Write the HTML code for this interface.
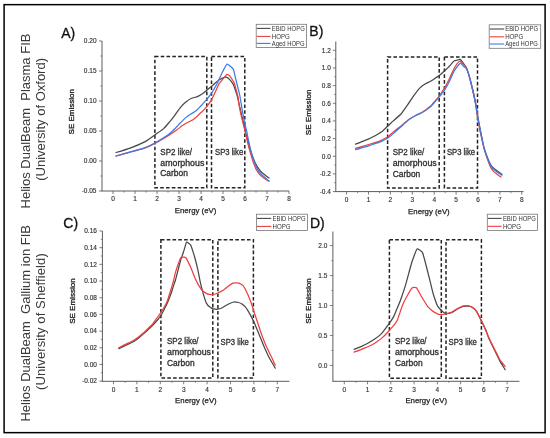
<!DOCTYPE html><html><head><meta charset="utf-8"><style>html,body{margin:0;padding:0;background:#fff;}svg{display:block;will-change:transform;}text{font-family:"Liberation Sans",sans-serif;}</style></head><body>
<svg width="550" height="438" viewBox="0 0 550 438">
<rect x="0" y="0" width="550" height="438" fill="#fff"/>
<rect x="4.1" y="4.65" width="541" height="428" fill="none" stroke="#000" stroke-width="1.5"/>
<text x="0" y="0" font-size="13" text-anchor="middle" fill="#3a3a3a" font-weight="normal" transform="translate(29.8,121) rotate(-90)" >Helios DualBeam&#160;&#160;Plasma FIB</text>
<text x="0" y="0" font-size="13" text-anchor="middle" fill="#3a3a3a" font-weight="normal" transform="translate(44.9,119.4) rotate(-90)" >(University of Oxford)</text>
<text x="0" y="0" font-size="13" text-anchor="middle" fill="#3a3a3a" font-weight="normal" transform="translate(29.8,323.3) rotate(-90)" >Helios DualBeam&#160;&#160;Gallium ion FIB</text>
<text x="0" y="0" font-size="13" text-anchor="middle" fill="#3a3a3a" font-weight="normal" transform="translate(44.9,321.6) rotate(-90)" textLength="136.8" lengthAdjust="spacing">(University of Sheffield)</text>
<text x="61.2" y="37.8" font-size="14" text-anchor="start" fill="#111" font-weight="normal" stroke="#111" stroke-width="0.3">A)</text>
<text x="309.3" y="36.4" font-size="14" text-anchor="start" fill="#111" font-weight="normal" stroke="#111" stroke-width="0.3">B)</text>
<text x="63.3" y="227.8" font-size="14" text-anchor="start" fill="#111" font-weight="normal" stroke="#111" stroke-width="0.3">C)</text>
<text x="309.9" y="227.5" font-size="14" text-anchor="start" fill="#111" font-weight="normal" stroke="#111" stroke-width="0.3">D)</text>
<line x1="102" y1="41" x2="102" y2="191" stroke="#5c5c5c" stroke-width="1"/>
<line x1="101.5" y1="191" x2="289" y2="191" stroke="#5c5c5c" stroke-width="1"/>
<line x1="99" y1="41" x2="102" y2="41" stroke="#5c5c5c" stroke-width="0.8"/>
<text x="96.5" y="43.3" font-size="6.5" text-anchor="end" fill="#333" font-weight="normal" stroke="#333" stroke-width="0.15">0.20</text>
<line x1="99" y1="71" x2="102" y2="71" stroke="#5c5c5c" stroke-width="0.8"/>
<text x="96.5" y="73.3" font-size="6.5" text-anchor="end" fill="#333" font-weight="normal" stroke="#333" stroke-width="0.15">0.15</text>
<line x1="99" y1="101" x2="102" y2="101" stroke="#5c5c5c" stroke-width="0.8"/>
<text x="96.5" y="103.3" font-size="6.5" text-anchor="end" fill="#333" font-weight="normal" stroke="#333" stroke-width="0.15">0.10</text>
<line x1="99" y1="131" x2="102" y2="131" stroke="#5c5c5c" stroke-width="0.8"/>
<text x="96.5" y="133.3" font-size="6.5" text-anchor="end" fill="#333" font-weight="normal" stroke="#333" stroke-width="0.15">0.05</text>
<line x1="99" y1="161" x2="102" y2="161" stroke="#5c5c5c" stroke-width="0.8"/>
<text x="96.5" y="163.3" font-size="6.5" text-anchor="end" fill="#333" font-weight="normal" stroke="#333" stroke-width="0.15">0.00</text>
<line x1="99" y1="191" x2="102" y2="191" stroke="#5c5c5c" stroke-width="0.8"/>
<text x="96.5" y="193.3" font-size="6.5" text-anchor="end" fill="#333" font-weight="normal" stroke="#333" stroke-width="0.15">-0.05</text>
<line x1="100.4" y1="56" x2="102" y2="56" stroke="#5c5c5c" stroke-width="0.7"/>
<line x1="100.4" y1="86" x2="102" y2="86" stroke="#5c5c5c" stroke-width="0.7"/>
<line x1="100.4" y1="116" x2="102" y2="116" stroke="#5c5c5c" stroke-width="0.7"/>
<line x1="100.4" y1="146" x2="102" y2="146" stroke="#5c5c5c" stroke-width="0.7"/>
<line x1="100.4" y1="176" x2="102" y2="176" stroke="#5c5c5c" stroke-width="0.7"/>
<line x1="113" y1="191" x2="113" y2="194" stroke="#5c5c5c" stroke-width="0.8"/>
<text x="113" y="201.3" font-size="6.5" text-anchor="middle" fill="#333" font-weight="normal" stroke="#333" stroke-width="0.15">0</text>
<line x1="135" y1="191" x2="135" y2="194" stroke="#5c5c5c" stroke-width="0.8"/>
<text x="135" y="201.3" font-size="6.5" text-anchor="middle" fill="#333" font-weight="normal" stroke="#333" stroke-width="0.15">1</text>
<line x1="157" y1="191" x2="157" y2="194" stroke="#5c5c5c" stroke-width="0.8"/>
<text x="157" y="201.3" font-size="6.5" text-anchor="middle" fill="#333" font-weight="normal" stroke="#333" stroke-width="0.15">2</text>
<line x1="179" y1="191" x2="179" y2="194" stroke="#5c5c5c" stroke-width="0.8"/>
<text x="179" y="201.3" font-size="6.5" text-anchor="middle" fill="#333" font-weight="normal" stroke="#333" stroke-width="0.15">3</text>
<line x1="201" y1="191" x2="201" y2="194" stroke="#5c5c5c" stroke-width="0.8"/>
<text x="201" y="201.3" font-size="6.5" text-anchor="middle" fill="#333" font-weight="normal" stroke="#333" stroke-width="0.15">4</text>
<line x1="223" y1="191" x2="223" y2="194" stroke="#5c5c5c" stroke-width="0.8"/>
<text x="223" y="201.3" font-size="6.5" text-anchor="middle" fill="#333" font-weight="normal" stroke="#333" stroke-width="0.15">5</text>
<line x1="245" y1="191" x2="245" y2="194" stroke="#5c5c5c" stroke-width="0.8"/>
<text x="245" y="201.3" font-size="6.5" text-anchor="middle" fill="#333" font-weight="normal" stroke="#333" stroke-width="0.15">6</text>
<line x1="267" y1="191" x2="267" y2="194" stroke="#5c5c5c" stroke-width="0.8"/>
<text x="267" y="201.3" font-size="6.5" text-anchor="middle" fill="#333" font-weight="normal" stroke="#333" stroke-width="0.15">7</text>
<line x1="289" y1="191" x2="289" y2="194" stroke="#5c5c5c" stroke-width="0.8"/>
<text x="289" y="201.3" font-size="6.5" text-anchor="middle" fill="#333" font-weight="normal" stroke="#333" stroke-width="0.15">8</text>
<line x1="124" y1="191" x2="124" y2="192.6" stroke="#5c5c5c" stroke-width="0.7"/>
<line x1="146" y1="191" x2="146" y2="192.6" stroke="#5c5c5c" stroke-width="0.7"/>
<line x1="168" y1="191" x2="168" y2="192.6" stroke="#5c5c5c" stroke-width="0.7"/>
<line x1="190" y1="191" x2="190" y2="192.6" stroke="#5c5c5c" stroke-width="0.7"/>
<line x1="212" y1="191" x2="212" y2="192.6" stroke="#5c5c5c" stroke-width="0.7"/>
<line x1="234" y1="191" x2="234" y2="192.6" stroke="#5c5c5c" stroke-width="0.7"/>
<line x1="256" y1="191" x2="256" y2="192.6" stroke="#5c5c5c" stroke-width="0.7"/>
<line x1="278" y1="191" x2="278" y2="192.6" stroke="#5c5c5c" stroke-width="0.7"/>
<text x="0" y="0" font-size="7.9" text-anchor="middle" fill="#222" font-weight="normal" transform="translate(74.3,111.7) rotate(-90)" textLength="45.5" lengthAdjust="spacingAndGlyphs" stroke="#222" stroke-width="0.3">SE Emission</text>
<text x="195.5" y="213" font-size="8" text-anchor="middle" fill="#222" font-weight="normal" textLength="41.6" lengthAdjust="spacingAndGlyphs" stroke="#222" stroke-width="0.25">Energy (eV)</text>
<rect x="154.9" y="56.5" width="51.900000000000006" height="131.3" fill="none" stroke="#222" stroke-width="1.5" stroke-dasharray="3.6 2.2"/>
<rect x="211.5" y="56.5" width="33.30000000000001" height="131.3" fill="none" stroke="#222" stroke-width="1.5" stroke-dasharray="3.6 2.2"/>
<path d="M116.0,152.5 C117.0,152.2 128.9,148.5 130.8,147.8 C132.7,147.1 143.6,142.4 145.2,141.6 C146.8,140.8 153.2,136.1 154.4,135.2 C155.6,134.3 162.7,129.5 163.7,128.6 C164.7,127.7 169.2,122.3 170.0,121.4 C170.8,120.5 174.4,115.7 175.1,114.8 C175.8,113.9 179.6,108.5 180.3,107.6 C181.0,106.7 185.1,102.5 185.9,101.9 C186.7,101.3 190.9,98.6 191.6,98.3 C192.3,98.0 196.1,97.0 196.7,96.8 C197.3,96.6 200.2,95.1 200.8,94.8 C201.4,94.5 204.3,92.3 205.0,91.7 C205.7,91.1 210.7,87.0 211.4,86.4 C212.1,85.8 215.0,83.2 215.5,82.8 C216.0,82.4 218.7,80.4 219.1,80.1 C219.5,79.8 221.4,78.5 221.9,78.3 C222.4,78.1 225.9,77.1 226.4,77.2 C226.9,77.3 229.3,79.2 229.7,79.6 C230.1,80.0 232.4,83.1 232.8,83.7 C233.2,84.3 234.8,88.3 235.1,89.2 C235.4,90.1 237.1,95.2 237.4,96.5 C237.7,97.8 239.6,106.4 240.0,108.0 C240.4,109.6 242.4,118.2 242.8,120.0 C243.2,121.8 245.8,133.5 246.2,135.0 C246.6,136.5 248.2,141.5 248.5,142.6 C248.8,143.7 250.4,150.0 250.8,151.2 C251.2,152.4 253.5,159.0 253.9,160.0 C254.3,161.0 256.6,165.6 257.1,166.4 C257.6,167.2 260.3,170.9 260.8,171.5 C261.3,172.1 264.7,174.8 265.2,175.2 C265.7,175.6 268.7,177.8 269.0,178.0" fill="none" stroke="#484848" stroke-width="1.25" stroke-linejoin="round" stroke-linecap="round"/>
<path d="M116.0,156.0 C117.0,155.7 128.9,152.4 130.8,151.9 C132.7,151.4 143.6,148.4 145.2,147.8 C146.8,147.2 152.9,144.4 154.4,143.6 C155.9,142.8 166.3,136.8 167.8,135.9 C169.3,135.0 175.7,130.7 176.7,130.0 C177.7,129.3 181.6,126.1 182.3,125.6 C183.0,125.1 186.8,122.9 187.5,122.5 C188.2,122.1 192.0,120.3 192.6,119.9 C193.2,119.5 196.2,117.3 196.7,116.8 C197.2,116.3 200.2,113.2 200.8,112.7 C201.4,112.2 204.3,109.4 205.0,108.6 C205.7,107.8 210.7,101.3 211.4,100.1 C212.1,98.9 215.2,92.1 215.7,91.0 C216.2,89.9 218.6,84.5 219.1,83.7 C219.6,82.9 222.3,79.8 222.8,79.2 C223.3,78.6 226.4,74.6 226.9,74.4 C227.4,74.2 229.3,75.6 229.7,76.0 C230.1,76.4 232.5,80.0 232.8,80.5 C233.1,81.0 234.0,82.2 234.2,82.8 C234.4,83.4 235.8,88.3 236.0,89.2 C236.2,90.1 237.7,95.2 237.9,96.5 C238.1,97.8 239.4,107.1 239.7,108.7 C240.0,110.3 242.0,119.0 242.4,120.6 C242.8,122.2 245.0,130.6 245.3,132.0 C245.6,133.4 247.2,140.7 247.5,142.0 C247.8,143.3 249.8,150.8 250.2,152.2 C250.6,153.6 252.9,161.3 253.3,162.4 C253.7,163.5 255.4,167.9 255.8,168.7 C256.2,169.5 259.1,173.8 259.6,174.4 C260.1,175.0 263.4,177.8 264.0,178.3 C264.6,178.8 268.7,181.1 269.0,181.3" fill="none" stroke="#f23e3e" stroke-width="1.25" stroke-linejoin="round" stroke-linecap="round"/>
<path d="M116.0,156.0 C117.0,155.7 128.9,152.5 130.8,151.9 C132.7,151.3 143.6,148.2 145.2,147.6 C146.8,147.0 152.9,144.0 154.4,143.2 C155.9,142.4 166.5,135.9 167.8,135.0 C169.1,134.1 172.8,130.8 173.6,130.0 C174.4,129.2 179.5,123.8 180.3,123.0 C181.1,122.2 184.7,118.5 185.4,117.9 C186.1,117.3 189.7,114.8 190.5,114.3 C191.3,113.8 196.0,110.8 196.7,110.2 C197.4,109.6 200.2,106.6 200.8,106.0 C201.4,105.4 204.3,102.2 205.0,101.4 C205.7,100.6 210.7,94.3 211.4,93.3 C212.1,92.3 215.0,87.4 215.5,86.5 C216.0,85.6 218.7,80.1 219.1,79.2 C219.5,78.3 221.4,74.2 221.9,73.2 C222.4,72.2 226.2,64.4 227.0,64.1 C227.8,63.8 232.8,68.3 233.3,69.1 C233.8,69.9 234.8,75.3 235.1,76.4 C235.4,77.5 237.1,84.4 237.4,85.6 C237.7,86.8 239.4,93.5 239.7,95.0 C240.0,96.5 241.6,106.5 241.9,108.2 C242.2,109.9 243.9,118.9 244.2,120.4 C244.5,121.9 246.3,129.6 246.6,131.0 C246.9,132.4 248.5,140.7 248.8,142.0 C249.1,143.3 250.5,149.4 250.8,150.6 C251.1,151.8 253.5,159.4 253.9,160.6 C254.3,161.8 256.6,167.7 257.1,168.6 C257.6,169.5 260.3,173.4 260.8,174.0 C261.3,174.6 264.7,177.2 265.2,177.7 C265.7,178.2 268.7,180.7 269.0,180.9" fill="none" stroke="#3a7ce8" stroke-width="1.25" stroke-linejoin="round" stroke-linecap="round"/>
<text x="160.3" y="154.7" font-size="8.3" text-anchor="start" fill="#2e2e2e" font-weight="normal" textLength="31.6" lengthAdjust="spacingAndGlyphs" stroke="#2e2e2e" stroke-width="0.3">SP2 like/</text>
<text x="160.3" y="165.5" font-size="8.3" text-anchor="start" fill="#2e2e2e" font-weight="normal" textLength="44" lengthAdjust="spacingAndGlyphs" stroke="#2e2e2e" stroke-width="0.3">amorphous</text>
<text x="160.3" y="176.29999999999998" font-size="8.3" text-anchor="start" fill="#2e2e2e" font-weight="normal" textLength="27.6" lengthAdjust="spacingAndGlyphs" stroke="#2e2e2e" stroke-width="0.3">Carbon</text>
<text x="215" y="155" font-size="8.3" text-anchor="start" fill="#2e2e2e" font-weight="normal" textLength="28.2" lengthAdjust="spacingAndGlyphs" stroke="#2e2e2e" stroke-width="0.3">SP3 like</text>
<rect x="256.2" y="24.3" width="50.400000000000034" height="23.2" fill="#fff" stroke="#777" stroke-width="0.8"/>
<line x1="256.7" y1="28.4" x2="270.5" y2="28.4" stroke="#484848" stroke-width="1.1"/>
<text x="271.8" y="30.799999999999997" font-size="6.6" text-anchor="start" fill="#333" font-weight="normal" textLength="33.0" lengthAdjust="spacingAndGlyphs">EBID HOPG</text>
<line x1="256.7" y1="36.4" x2="270.5" y2="36.4" stroke="#f23e3e" stroke-width="1.1"/>
<text x="271.8" y="38.8" font-size="6.6" text-anchor="start" fill="#333" font-weight="normal" textLength="18.0" lengthAdjust="spacingAndGlyphs">HOPG</text>
<line x1="256.7" y1="43.4" x2="270.5" y2="43.4" stroke="#3a7ce8" stroke-width="1.1"/>
<text x="271.8" y="45.8" font-size="6.6" text-anchor="start" fill="#333" font-weight="normal" textLength="32.7" lengthAdjust="spacingAndGlyphs">Aged HOPG</text>
<line x1="335.8" y1="41.5" x2="335.8" y2="191.6" stroke="#5c5c5c" stroke-width="1"/>
<line x1="335.3" y1="191.6" x2="523.5" y2="191.6" stroke="#5c5c5c" stroke-width="1"/>
<line x1="332.8" y1="50.3" x2="335.8" y2="50.3" stroke="#5c5c5c" stroke-width="0.8"/>
<text x="330.90000000000003" y="52.599999999999994" font-size="6.5" text-anchor="end" fill="#333" font-weight="normal" stroke="#333" stroke-width="0.15">1.2</text>
<line x1="332.8" y1="67.96" x2="335.8" y2="67.96" stroke="#5c5c5c" stroke-width="0.8"/>
<text x="330.90000000000003" y="70.25999999999999" font-size="6.5" text-anchor="end" fill="#333" font-weight="normal" stroke="#333" stroke-width="0.15">1.0</text>
<line x1="332.8" y1="85.62" x2="335.8" y2="85.62" stroke="#5c5c5c" stroke-width="0.8"/>
<text x="330.90000000000003" y="87.92" font-size="6.5" text-anchor="end" fill="#333" font-weight="normal" stroke="#333" stroke-width="0.15">0.8</text>
<line x1="332.8" y1="103.28" x2="335.8" y2="103.28" stroke="#5c5c5c" stroke-width="0.8"/>
<text x="330.90000000000003" y="105.58" font-size="6.5" text-anchor="end" fill="#333" font-weight="normal" stroke="#333" stroke-width="0.15">0.6</text>
<line x1="332.8" y1="120.94" x2="335.8" y2="120.94" stroke="#5c5c5c" stroke-width="0.8"/>
<text x="330.90000000000003" y="123.24" font-size="6.5" text-anchor="end" fill="#333" font-weight="normal" stroke="#333" stroke-width="0.15">0.4</text>
<line x1="332.8" y1="138.6" x2="335.8" y2="138.6" stroke="#5c5c5c" stroke-width="0.8"/>
<text x="330.90000000000003" y="140.9" font-size="6.5" text-anchor="end" fill="#333" font-weight="normal" stroke="#333" stroke-width="0.15">0.2</text>
<line x1="332.8" y1="156.26" x2="335.8" y2="156.26" stroke="#5c5c5c" stroke-width="0.8"/>
<text x="330.90000000000003" y="158.56" font-size="6.5" text-anchor="end" fill="#333" font-weight="normal" stroke="#333" stroke-width="0.15">0.0</text>
<line x1="332.8" y1="173.92000000000002" x2="335.8" y2="173.92000000000002" stroke="#5c5c5c" stroke-width="0.8"/>
<text x="330.90000000000003" y="176.22000000000003" font-size="6.5" text-anchor="end" fill="#333" font-weight="normal" stroke="#333" stroke-width="0.15">-0.2</text>
<line x1="332.8" y1="191.57999999999998" x2="335.8" y2="191.57999999999998" stroke="#5c5c5c" stroke-width="0.8"/>
<text x="330.90000000000003" y="193.88" font-size="6.5" text-anchor="end" fill="#333" font-weight="normal" stroke="#333" stroke-width="0.15">-0.4</text>
<line x1="334.2" y1="59.1" x2="335.8" y2="59.1" stroke="#5c5c5c" stroke-width="0.7"/>
<line x1="334.2" y1="76.76" x2="335.8" y2="76.76" stroke="#5c5c5c" stroke-width="0.7"/>
<line x1="334.2" y1="94.42" x2="335.8" y2="94.42" stroke="#5c5c5c" stroke-width="0.7"/>
<line x1="334.2" y1="112.08000000000001" x2="335.8" y2="112.08000000000001" stroke="#5c5c5c" stroke-width="0.7"/>
<line x1="334.2" y1="129.74" x2="335.8" y2="129.74" stroke="#5c5c5c" stroke-width="0.7"/>
<line x1="334.2" y1="147.4" x2="335.8" y2="147.4" stroke="#5c5c5c" stroke-width="0.7"/>
<line x1="334.2" y1="165.06" x2="335.8" y2="165.06" stroke="#5c5c5c" stroke-width="0.7"/>
<line x1="334.2" y1="182.72" x2="335.8" y2="182.72" stroke="#5c5c5c" stroke-width="0.7"/>
<line x1="346.6" y1="191.6" x2="346.6" y2="194.6" stroke="#5c5c5c" stroke-width="0.8"/>
<text x="346.6" y="201.9" font-size="6.5" text-anchor="middle" fill="#333" font-weight="normal" stroke="#333" stroke-width="0.15">0</text>
<line x1="368.5" y1="191.6" x2="368.5" y2="194.6" stroke="#5c5c5c" stroke-width="0.8"/>
<text x="368.5" y="201.9" font-size="6.5" text-anchor="middle" fill="#333" font-weight="normal" stroke="#333" stroke-width="0.15">1</text>
<line x1="390.40000000000003" y1="191.6" x2="390.40000000000003" y2="194.6" stroke="#5c5c5c" stroke-width="0.8"/>
<text x="390.40000000000003" y="201.9" font-size="6.5" text-anchor="middle" fill="#333" font-weight="normal" stroke="#333" stroke-width="0.15">2</text>
<line x1="412.3" y1="191.6" x2="412.3" y2="194.6" stroke="#5c5c5c" stroke-width="0.8"/>
<text x="412.3" y="201.9" font-size="6.5" text-anchor="middle" fill="#333" font-weight="normal" stroke="#333" stroke-width="0.15">3</text>
<line x1="434.20000000000005" y1="191.6" x2="434.20000000000005" y2="194.6" stroke="#5c5c5c" stroke-width="0.8"/>
<text x="434.20000000000005" y="201.9" font-size="6.5" text-anchor="middle" fill="#333" font-weight="normal" stroke="#333" stroke-width="0.15">4</text>
<line x1="456.1" y1="191.6" x2="456.1" y2="194.6" stroke="#5c5c5c" stroke-width="0.8"/>
<text x="456.1" y="201.9" font-size="6.5" text-anchor="middle" fill="#333" font-weight="normal" stroke="#333" stroke-width="0.15">5</text>
<line x1="478.0" y1="191.6" x2="478.0" y2="194.6" stroke="#5c5c5c" stroke-width="0.8"/>
<text x="478.0" y="201.9" font-size="6.5" text-anchor="middle" fill="#333" font-weight="normal" stroke="#333" stroke-width="0.15">6</text>
<line x1="499.9" y1="191.6" x2="499.9" y2="194.6" stroke="#5c5c5c" stroke-width="0.8"/>
<text x="499.9" y="201.9" font-size="6.5" text-anchor="middle" fill="#333" font-weight="normal" stroke="#333" stroke-width="0.15">7</text>
<line x1="521.8" y1="191.6" x2="521.8" y2="194.6" stroke="#5c5c5c" stroke-width="0.8"/>
<text x="521.8" y="201.9" font-size="6.5" text-anchor="middle" fill="#333" font-weight="normal" stroke="#333" stroke-width="0.15">8</text>
<line x1="357.6" y1="191.6" x2="357.6" y2="193.2" stroke="#5c5c5c" stroke-width="0.7"/>
<line x1="379.5" y1="191.6" x2="379.5" y2="193.2" stroke="#5c5c5c" stroke-width="0.7"/>
<line x1="401.40000000000003" y1="191.6" x2="401.40000000000003" y2="193.2" stroke="#5c5c5c" stroke-width="0.7"/>
<line x1="423.3" y1="191.6" x2="423.3" y2="193.2" stroke="#5c5c5c" stroke-width="0.7"/>
<line x1="445.20000000000005" y1="191.6" x2="445.20000000000005" y2="193.2" stroke="#5c5c5c" stroke-width="0.7"/>
<line x1="467.1" y1="191.6" x2="467.1" y2="193.2" stroke="#5c5c5c" stroke-width="0.7"/>
<line x1="489.0" y1="191.6" x2="489.0" y2="193.2" stroke="#5c5c5c" stroke-width="0.7"/>
<line x1="510.9" y1="191.6" x2="510.9" y2="193.2" stroke="#5c5c5c" stroke-width="0.7"/>
<text x="0" y="0" font-size="7.9" text-anchor="middle" fill="#222" font-weight="normal" transform="translate(311.3,112.4) rotate(-90)" textLength="45.5" lengthAdjust="spacingAndGlyphs" stroke="#222" stroke-width="0.3">SE Emission</text>
<text x="428.9" y="213.9" font-size="8" text-anchor="middle" fill="#222" font-weight="normal" textLength="41.6" lengthAdjust="spacingAndGlyphs" stroke="#222" stroke-width="0.25">Energy (eV)</text>
<rect x="387.6" y="56.9" width="51.599999999999966" height="131.1" fill="none" stroke="#222" stroke-width="1.5" stroke-dasharray="3.6 2.2"/>
<rect x="444.4" y="56.9" width="33.10000000000002" height="131.1" fill="none" stroke="#222" stroke-width="1.5" stroke-dasharray="3.6 2.2"/>
<path d="M355.6,144.2 C356.1,144.0 361.6,141.8 362.5,141.4 C363.4,141.0 368.0,139.3 368.8,138.9 C369.6,138.5 374.3,136.3 375.1,135.8 C375.9,135.3 380.6,132.6 381.4,132.0 C382.2,131.4 386.8,127.0 387.6,126.3 C388.4,125.6 392.1,121.9 393.0,121.1 C393.9,120.3 400.0,115.1 401.0,114.0 C402.0,112.9 406.5,106.4 407.4,105.2 C408.3,104.0 412.9,96.8 413.8,95.6 C414.7,94.4 419.4,88.4 420.2,87.6 C421.0,86.8 424.8,84.2 425.5,83.8 C426.2,83.4 430.4,81.5 431.0,81.1 C431.6,80.7 434.6,78.7 435.1,78.3 C435.6,77.9 438.6,76.1 439.2,75.6 C439.8,75.1 444.0,71.5 444.7,70.8 C445.4,70.1 449.6,66.0 450.2,65.3 C450.8,64.6 453.8,61.1 454.3,60.8 C454.8,60.5 456.6,60.3 457.0,60.2 C457.4,60.1 459.6,59.3 460.0,59.4 C460.4,59.5 462.1,61.4 462.5,62.0 C462.9,62.6 465.8,66.7 466.3,67.8 C466.8,68.9 469.7,77.7 470.1,79.2 C470.5,80.7 472.4,88.4 472.8,90.0 C473.2,91.6 475.1,100.6 475.5,102.5 C475.9,104.4 477.8,116.9 478.2,119.0 C478.6,121.1 480.6,131.7 481.0,133.5 C481.4,135.3 483.3,144.7 483.7,146.3 C484.1,147.9 486.8,155.9 487.3,157.2 C487.8,158.5 490.5,164.5 491.0,165.3 C491.5,166.1 494.8,169.2 495.5,169.8 C496.2,170.4 501.5,174.0 501.9,174.3" fill="none" stroke="#484848" stroke-width="1.25" stroke-linejoin="round" stroke-linecap="round"/>
<path d="M355.6,148.3 C356.1,148.2 361.6,146.7 362.5,146.4 C363.4,146.1 368.0,144.7 368.8,144.5 C369.6,144.3 374.3,143.0 375.1,142.7 C375.9,142.4 380.6,140.6 381.4,140.2 C382.2,139.8 386.8,137.5 387.6,137.0 C388.4,136.5 392.1,133.0 393.0,132.3 C393.9,131.6 399.9,126.8 401.0,125.9 C402.1,125.0 407.9,120.2 409.0,119.5 C410.1,118.8 416.3,115.1 417.0,114.7 C417.7,114.3 419.4,113.6 420.0,113.3 C420.6,113.0 424.8,110.4 425.5,109.9 C426.2,109.4 430.4,106.4 431.0,105.8 C431.6,105.2 434.6,101.6 435.1,101.0 C435.6,100.4 438.6,97.1 439.2,96.2 C439.8,95.3 444.0,89.2 444.7,87.9 C445.4,86.6 449.6,78.3 450.2,77.0 C450.8,75.7 453.8,68.9 454.3,68.0 C454.8,67.1 456.6,64.4 457.0,63.9 C457.4,63.4 459.4,61.2 459.8,61.2 C460.2,61.2 462.1,62.8 462.5,63.2 C462.9,63.6 465.8,66.5 466.3,67.6 C466.8,68.7 469.6,77.5 470.0,79.0 C470.4,80.5 472.3,88.4 472.7,90.0 C473.1,91.6 475.1,101.3 475.4,103.0 C475.7,104.7 477.0,114.2 477.3,116.0 C477.6,117.8 479.6,128.7 480.0,130.5 C480.4,132.3 482.4,141.6 482.8,143.3 C483.2,145.0 485.9,154.6 486.4,156.1 C486.9,157.6 489.6,165.1 490.1,166.1 C490.6,167.1 493.0,170.9 493.7,171.6 C494.4,172.3 500.5,176.7 501.0,177.1" fill="none" stroke="#f23e3e" stroke-width="1.25" stroke-linejoin="round" stroke-linecap="round"/>
<path d="M355.6,149.6 C356.1,149.5 361.6,148.0 362.5,147.7 C363.4,147.4 368.0,146.1 368.8,145.8 C369.6,145.5 374.3,144.0 375.1,143.7 C375.9,143.4 380.6,141.8 381.4,141.4 C382.2,141.0 386.8,138.8 387.6,138.3 C388.4,137.8 392.1,134.7 393.0,133.9 C393.9,133.1 399.9,127.7 401.0,126.7 C402.1,125.7 408.1,120.2 409.0,119.5 C409.9,118.8 414.3,116.2 415.0,115.8 C415.7,115.4 419.3,113.9 420.0,113.6 C420.7,113.3 424.8,111.1 425.5,110.6 C426.2,110.1 430.4,107.0 431.0,106.4 C431.6,105.8 434.6,102.2 435.1,101.6 C435.6,101.0 438.6,97.6 439.2,96.8 C439.8,96.0 444.0,91.1 444.7,90.0 C445.4,88.9 449.6,81.0 450.2,79.7 C450.8,78.4 453.8,71.7 454.3,70.8 C454.8,69.9 457.3,66.5 457.7,66.0 C458.1,65.5 460.1,63.0 460.5,63.0 C460.9,63.0 462.8,65.6 463.2,66.0 C463.6,66.4 466.1,67.8 466.6,68.7 C467.1,69.6 469.7,78.2 470.1,79.7 C470.5,81.2 472.4,89.0 472.8,90.6 C473.2,92.2 475.1,101.1 475.5,103.0 C475.9,104.9 477.8,117.5 478.2,119.6 C478.6,121.7 480.6,132.4 481.0,134.2 C481.4,136.0 483.3,145.4 483.7,147.0 C484.1,148.6 486.8,156.6 487.3,157.9 C487.8,159.2 490.5,165.2 491.0,166.1 C491.5,167.0 494.8,170.1 495.5,170.7 C496.2,171.3 501.5,175.0 501.9,175.3" fill="none" stroke="#3a7ce8" stroke-width="1.25" stroke-linejoin="round" stroke-linecap="round"/>
<text x="392.7" y="155" font-size="8.3" text-anchor="start" fill="#2e2e2e" font-weight="normal" textLength="31.6" lengthAdjust="spacingAndGlyphs" stroke="#2e2e2e" stroke-width="0.3">SP2 like/</text>
<text x="392.7" y="165.8" font-size="8.3" text-anchor="start" fill="#2e2e2e" font-weight="normal" textLength="44" lengthAdjust="spacingAndGlyphs" stroke="#2e2e2e" stroke-width="0.3">amorphous</text>
<text x="392.7" y="176.6" font-size="8.3" text-anchor="start" fill="#2e2e2e" font-weight="normal" textLength="27.6" lengthAdjust="spacingAndGlyphs" stroke="#2e2e2e" stroke-width="0.3">Carbon</text>
<text x="446.9" y="155.3" font-size="8.3" text-anchor="start" fill="#2e2e2e" font-weight="normal" textLength="28.2" lengthAdjust="spacingAndGlyphs" stroke="#2e2e2e" stroke-width="0.3">SP3 like</text>
<rect x="489.2" y="24.8" width="51.50000000000006" height="23.499999999999996" fill="#fff" stroke="#777" stroke-width="0.8"/>
<line x1="489.7" y1="29" x2="504.2" y2="29" stroke="#484848" stroke-width="1.1"/>
<text x="505.2" y="31.4" font-size="6.6" text-anchor="start" fill="#333" font-weight="normal" textLength="33.0" lengthAdjust="spacingAndGlyphs">EBID HOPG</text>
<line x1="489.7" y1="36.8" x2="504.2" y2="36.8" stroke="#f23e3e" stroke-width="1.1"/>
<text x="505.2" y="39.199999999999996" font-size="6.6" text-anchor="start" fill="#333" font-weight="normal" textLength="18.0" lengthAdjust="spacingAndGlyphs">HOPG</text>
<line x1="489.7" y1="44" x2="504.2" y2="44" stroke="#3a7ce8" stroke-width="1.1"/>
<text x="505.2" y="46.4" font-size="6.6" text-anchor="start" fill="#333" font-weight="normal" textLength="32.7" lengthAdjust="spacingAndGlyphs">Aged HOPG</text>
<line x1="102.4" y1="231" x2="102.4" y2="381.3" stroke="#5c5c5c" stroke-width="1"/>
<line x1="101.9" y1="381.3" x2="289.4" y2="381.3" stroke="#5c5c5c" stroke-width="1"/>
<line x1="99.4" y1="231.0" x2="102.4" y2="231.0" stroke="#5c5c5c" stroke-width="0.8"/>
<text x="96.9" y="233.3" font-size="6.5" text-anchor="end" fill="#333" font-weight="normal" stroke="#333" stroke-width="0.15">0.16</text>
<line x1="99.4" y1="247.68" x2="102.4" y2="247.68" stroke="#5c5c5c" stroke-width="0.8"/>
<text x="96.9" y="249.98000000000002" font-size="6.5" text-anchor="end" fill="#333" font-weight="normal" stroke="#333" stroke-width="0.15">0.14</text>
<line x1="99.4" y1="264.36" x2="102.4" y2="264.36" stroke="#5c5c5c" stroke-width="0.8"/>
<text x="96.9" y="266.66" font-size="6.5" text-anchor="end" fill="#333" font-weight="normal" stroke="#333" stroke-width="0.15">0.12</text>
<line x1="99.4" y1="281.04" x2="102.4" y2="281.04" stroke="#5c5c5c" stroke-width="0.8"/>
<text x="96.9" y="283.34000000000003" font-size="6.5" text-anchor="end" fill="#333" font-weight="normal" stroke="#333" stroke-width="0.15">0.10</text>
<line x1="99.4" y1="297.72" x2="102.4" y2="297.72" stroke="#5c5c5c" stroke-width="0.8"/>
<text x="96.9" y="300.02000000000004" font-size="6.5" text-anchor="end" fill="#333" font-weight="normal" stroke="#333" stroke-width="0.15">0.08</text>
<line x1="99.4" y1="314.4" x2="102.4" y2="314.4" stroke="#5c5c5c" stroke-width="0.8"/>
<text x="96.9" y="316.7" font-size="6.5" text-anchor="end" fill="#333" font-weight="normal" stroke="#333" stroke-width="0.15">0.06</text>
<line x1="99.4" y1="331.08" x2="102.4" y2="331.08" stroke="#5c5c5c" stroke-width="0.8"/>
<text x="96.9" y="333.38" font-size="6.5" text-anchor="end" fill="#333" font-weight="normal" stroke="#333" stroke-width="0.15">0.04</text>
<line x1="99.4" y1="347.76" x2="102.4" y2="347.76" stroke="#5c5c5c" stroke-width="0.8"/>
<text x="96.9" y="350.06" font-size="6.5" text-anchor="end" fill="#333" font-weight="normal" stroke="#333" stroke-width="0.15">0.02</text>
<line x1="99.4" y1="364.44" x2="102.4" y2="364.44" stroke="#5c5c5c" stroke-width="0.8"/>
<text x="96.9" y="366.74" font-size="6.5" text-anchor="end" fill="#333" font-weight="normal" stroke="#333" stroke-width="0.15">0.00</text>
<line x1="99.4" y1="381.12" x2="102.4" y2="381.12" stroke="#5c5c5c" stroke-width="0.8"/>
<text x="96.9" y="383.42" font-size="6.5" text-anchor="end" fill="#333" font-weight="normal" stroke="#333" stroke-width="0.15">-0.02</text>
<line x1="100.80000000000001" y1="239.3" x2="102.4" y2="239.3" stroke="#5c5c5c" stroke-width="0.7"/>
<line x1="100.80000000000001" y1="255.98000000000002" x2="102.4" y2="255.98000000000002" stroke="#5c5c5c" stroke-width="0.7"/>
<line x1="100.80000000000001" y1="272.66" x2="102.4" y2="272.66" stroke="#5c5c5c" stroke-width="0.7"/>
<line x1="100.80000000000001" y1="289.34000000000003" x2="102.4" y2="289.34000000000003" stroke="#5c5c5c" stroke-width="0.7"/>
<line x1="100.80000000000001" y1="306.02" x2="102.4" y2="306.02" stroke="#5c5c5c" stroke-width="0.7"/>
<line x1="100.80000000000001" y1="322.70000000000005" x2="102.4" y2="322.70000000000005" stroke="#5c5c5c" stroke-width="0.7"/>
<line x1="100.80000000000001" y1="339.38" x2="102.4" y2="339.38" stroke="#5c5c5c" stroke-width="0.7"/>
<line x1="100.80000000000001" y1="356.06" x2="102.4" y2="356.06" stroke="#5c5c5c" stroke-width="0.7"/>
<line x1="100.80000000000001" y1="372.74" x2="102.4" y2="372.74" stroke="#5c5c5c" stroke-width="0.7"/>
<line x1="113.5" y1="381.3" x2="113.5" y2="384.3" stroke="#5c5c5c" stroke-width="0.8"/>
<text x="113.5" y="391.6" font-size="6.5" text-anchor="middle" fill="#333" font-weight="normal" stroke="#333" stroke-width="0.15">0</text>
<line x1="136.9" y1="381.3" x2="136.9" y2="384.3" stroke="#5c5c5c" stroke-width="0.8"/>
<text x="136.9" y="391.6" font-size="6.5" text-anchor="middle" fill="#333" font-weight="normal" stroke="#333" stroke-width="0.15">1</text>
<line x1="160.3" y1="381.3" x2="160.3" y2="384.3" stroke="#5c5c5c" stroke-width="0.8"/>
<text x="160.3" y="391.6" font-size="6.5" text-anchor="middle" fill="#333" font-weight="normal" stroke="#333" stroke-width="0.15">2</text>
<line x1="183.7" y1="381.3" x2="183.7" y2="384.3" stroke="#5c5c5c" stroke-width="0.8"/>
<text x="183.7" y="391.6" font-size="6.5" text-anchor="middle" fill="#333" font-weight="normal" stroke="#333" stroke-width="0.15">3</text>
<line x1="207.1" y1="381.3" x2="207.1" y2="384.3" stroke="#5c5c5c" stroke-width="0.8"/>
<text x="207.1" y="391.6" font-size="6.5" text-anchor="middle" fill="#333" font-weight="normal" stroke="#333" stroke-width="0.15">4</text>
<line x1="230.5" y1="381.3" x2="230.5" y2="384.3" stroke="#5c5c5c" stroke-width="0.8"/>
<text x="230.5" y="391.6" font-size="6.5" text-anchor="middle" fill="#333" font-weight="normal" stroke="#333" stroke-width="0.15">5</text>
<line x1="253.89999999999998" y1="381.3" x2="253.89999999999998" y2="384.3" stroke="#5c5c5c" stroke-width="0.8"/>
<text x="253.89999999999998" y="391.6" font-size="6.5" text-anchor="middle" fill="#333" font-weight="normal" stroke="#333" stroke-width="0.15">6</text>
<line x1="277.29999999999995" y1="381.3" x2="277.29999999999995" y2="384.3" stroke="#5c5c5c" stroke-width="0.8"/>
<text x="277.29999999999995" y="391.6" font-size="6.5" text-anchor="middle" fill="#333" font-weight="normal" stroke="#333" stroke-width="0.15">7</text>
<line x1="125.2" y1="381.3" x2="125.2" y2="382.90000000000003" stroke="#5c5c5c" stroke-width="0.7"/>
<line x1="148.6" y1="381.3" x2="148.6" y2="382.90000000000003" stroke="#5c5c5c" stroke-width="0.7"/>
<line x1="172.0" y1="381.3" x2="172.0" y2="382.90000000000003" stroke="#5c5c5c" stroke-width="0.7"/>
<line x1="195.39999999999998" y1="381.3" x2="195.39999999999998" y2="382.90000000000003" stroke="#5c5c5c" stroke-width="0.7"/>
<line x1="218.8" y1="381.3" x2="218.8" y2="382.90000000000003" stroke="#5c5c5c" stroke-width="0.7"/>
<line x1="242.2" y1="381.3" x2="242.2" y2="382.90000000000003" stroke="#5c5c5c" stroke-width="0.7"/>
<line x1="265.59999999999997" y1="381.3" x2="265.59999999999997" y2="382.90000000000003" stroke="#5c5c5c" stroke-width="0.7"/>
<text x="0" y="0" font-size="7.9" text-anchor="middle" fill="#222" font-weight="normal" transform="translate(74.6,301.1) rotate(-90)" textLength="45.5" lengthAdjust="spacingAndGlyphs" stroke="#222" stroke-width="0.3">SE Emission</text>
<text x="195.9" y="403" font-size="8" text-anchor="middle" fill="#222" font-weight="normal" textLength="41.6" lengthAdjust="spacingAndGlyphs" stroke="#222" stroke-width="0.25">Energy (eV)</text>
<rect x="160.9" y="239.7" width="51.900000000000006" height="138.2" fill="none" stroke="#222" stroke-width="1.5" stroke-dasharray="3.6 2.2"/>
<rect x="217.9" y="239.7" width="35.5" height="138.2" fill="none" stroke="#222" stroke-width="1.5" stroke-dasharray="3.6 2.2"/>
<path d="M118.8,348.7 C119.2,348.5 124.0,346.1 125.0,345.6 C126.0,345.1 132.8,342.1 133.8,341.5 C134.8,340.9 139.3,337.5 140.1,336.8 C140.9,336.1 145.6,332.2 146.4,331.4 C147.2,330.6 151.9,326.0 152.7,325.2 C153.5,324.4 157.3,320.2 157.9,319.5 C158.5,318.8 161.3,314.8 161.8,314.0 C162.3,313.2 164.6,308.6 165.0,307.8 C165.4,307.0 167.4,302.8 167.8,301.9 C168.2,301.0 170.6,294.7 171.0,293.7 C171.4,292.7 173.0,287.3 173.3,286.4 C173.6,285.5 175.0,281.7 175.5,280.0 C176.0,278.3 179.9,262.7 180.5,260.7 C181.1,258.7 183.6,251.6 184.0,250.4 C184.4,249.2 186.0,242.5 186.5,242.2 C187.0,241.9 190.3,244.4 190.8,245.3 C191.3,246.2 193.7,253.9 194.2,255.5 C194.7,257.1 197.4,267.9 197.8,269.6 C198.2,271.3 199.8,279.9 200.1,281.4 C200.4,282.9 202.6,291.4 203.0,292.8 C203.4,294.2 205.9,302.1 206.4,303.1 C206.9,304.1 209.3,306.7 209.8,307.1 C210.3,307.5 212.8,308.7 213.3,308.8 C213.8,308.9 217.2,309.3 217.8,309.2 C218.4,309.1 221.7,308.0 222.4,307.7 C223.1,307.4 227.3,304.6 228.1,304.2 C228.9,303.8 233.1,302.1 233.8,302.0 C234.5,301.9 237.9,302.4 238.4,302.5 C238.9,302.6 241.6,303.7 242.0,304.0 C242.4,304.3 244.5,306.0 245.1,306.7 C245.7,307.4 249.7,313.8 250.3,314.9 C250.9,316.0 253.9,321.9 254.4,323.1 C254.9,324.3 258.0,331.7 258.5,333.0 C259.0,334.3 262.1,341.7 262.6,343.0 C263.1,344.3 266.2,351.4 266.7,352.5 C267.2,353.6 269.9,359.0 270.5,360.0 C271.1,361.0 275.0,367.7 275.3,368.2" fill="none" stroke="#484848" stroke-width="1.25" stroke-linejoin="round" stroke-linecap="round"/>
<path d="M118.8,347.7 C119.2,347.5 124.0,345.1 125.0,344.6 C126.0,344.1 132.8,340.8 133.8,340.2 C134.8,339.6 139.3,336.5 140.1,335.8 C140.9,335.1 145.6,331.0 146.4,330.2 C147.2,329.4 152.0,324.7 152.7,323.9 C153.4,323.1 156.5,318.7 157.0,318.0 C157.5,317.3 160.2,313.5 160.7,312.8 C161.2,312.1 163.7,307.9 164.1,307.2 C164.5,306.5 166.5,302.8 166.9,301.9 C167.3,301.0 169.3,294.7 169.6,293.7 C169.9,292.7 171.6,287.3 171.9,286.4 C172.2,285.5 173.5,280.9 173.7,280.0 C173.9,279.1 175.0,274.1 175.4,272.7 C175.8,271.3 179.9,259.5 180.3,258.5 C180.7,257.5 181.2,257.5 181.5,257.4 C181.8,257.3 184.9,257.2 185.2,257.3 C185.5,257.4 186.1,257.9 186.5,258.6 C186.9,259.3 190.2,266.2 190.8,267.5 C191.4,268.8 194.5,276.8 195.0,278.0 C195.5,279.2 197.9,284.0 198.4,284.8 C198.9,285.6 201.3,289.4 201.8,290.0 C202.3,290.6 205.9,293.1 206.4,293.4 C206.9,293.7 209.3,294.4 209.8,294.5 C210.3,294.6 212.8,294.6 213.3,294.5 C213.8,294.4 217.1,293.3 217.8,293.0 C218.5,292.7 222.7,290.5 223.5,290.0 C224.3,289.5 228.6,286.1 229.2,285.6 C229.8,285.1 232.5,283.4 233.0,283.2 C233.5,283.0 235.6,282.8 236.0,282.8 C236.4,282.8 238.5,282.9 239.0,283.1 C239.5,283.3 242.6,285.2 243.0,285.6 C243.4,286.0 244.6,287.8 245.1,288.8 C245.6,289.8 249.7,298.9 250.3,300.5 C250.9,302.1 253.9,311.3 254.4,312.9 C254.9,314.5 258.0,323.7 258.5,325.2 C259.0,326.7 261.5,334.2 262.0,335.5 C262.5,336.8 265.0,343.4 265.5,344.5 C266.0,345.6 268.6,351.1 269.0,352.0 C269.4,352.9 271.6,357.1 272.0,358.0 C272.4,358.9 275.1,364.7 275.3,365.2" fill="none" stroke="#f23e3e" stroke-width="1.25" stroke-linejoin="round" stroke-linecap="round"/>
<text x="167" y="344.4" font-size="8.3" text-anchor="start" fill="#2e2e2e" font-weight="normal" textLength="31.6" lengthAdjust="spacingAndGlyphs" stroke="#2e2e2e" stroke-width="0.3">SP2 like/</text>
<text x="167" y="355.2" font-size="8.3" text-anchor="start" fill="#2e2e2e" font-weight="normal" textLength="44" lengthAdjust="spacingAndGlyphs" stroke="#2e2e2e" stroke-width="0.3">amorphous</text>
<text x="167" y="366.0" font-size="8.3" text-anchor="start" fill="#2e2e2e" font-weight="normal" textLength="27.6" lengthAdjust="spacingAndGlyphs" stroke="#2e2e2e" stroke-width="0.3">Carbon</text>
<text x="220.6" y="344.8" font-size="8.3" text-anchor="start" fill="#2e2e2e" font-weight="normal" textLength="28.2" lengthAdjust="spacingAndGlyphs" stroke="#2e2e2e" stroke-width="0.3">SP3 like</text>
<rect x="256.5" y="214.2" width="51.0" height="16.30000000000001" fill="#fff" stroke="#777" stroke-width="0.8"/>
<line x1="257.0" y1="218.4" x2="271.2" y2="218.4" stroke="#484848" stroke-width="1.1"/>
<text x="272.5" y="220.8" font-size="6.6" text-anchor="start" fill="#333" font-weight="normal" textLength="33.0" lengthAdjust="spacingAndGlyphs">EBID HOPG</text>
<line x1="257.0" y1="226.4" x2="271.2" y2="226.4" stroke="#f23e3e" stroke-width="1.1"/>
<text x="272.5" y="228.8" font-size="6.6" text-anchor="start" fill="#333" font-weight="normal" textLength="18.0" lengthAdjust="spacingAndGlyphs">HOPG</text>
<line x1="332.9" y1="231.5" x2="332.9" y2="381.3" stroke="#5c5c5c" stroke-width="1"/>
<line x1="332.4" y1="381.3" x2="519.4" y2="381.3" stroke="#5c5c5c" stroke-width="1"/>
<line x1="329.9" y1="245.6" x2="332.9" y2="245.6" stroke="#5c5c5c" stroke-width="0.8"/>
<text x="327.4" y="247.9" font-size="6.5" text-anchor="end" fill="#333" font-weight="normal" stroke="#333" stroke-width="0.15">2.0</text>
<line x1="329.9" y1="275.55" x2="332.9" y2="275.55" stroke="#5c5c5c" stroke-width="0.8"/>
<text x="327.4" y="277.85" font-size="6.5" text-anchor="end" fill="#333" font-weight="normal" stroke="#333" stroke-width="0.15">1.5</text>
<line x1="329.9" y1="305.5" x2="332.9" y2="305.5" stroke="#5c5c5c" stroke-width="0.8"/>
<text x="327.4" y="307.8" font-size="6.5" text-anchor="end" fill="#333" font-weight="normal" stroke="#333" stroke-width="0.15">1.0</text>
<line x1="329.9" y1="335.45" x2="332.9" y2="335.45" stroke="#5c5c5c" stroke-width="0.8"/>
<text x="327.4" y="337.75" font-size="6.5" text-anchor="end" fill="#333" font-weight="normal" stroke="#333" stroke-width="0.15">0.5</text>
<line x1="329.9" y1="365.4" x2="332.9" y2="365.4" stroke="#5c5c5c" stroke-width="0.8"/>
<text x="327.4" y="367.7" font-size="6.5" text-anchor="end" fill="#333" font-weight="normal" stroke="#333" stroke-width="0.15">0.0</text>
<line x1="331.29999999999995" y1="260.6" x2="332.9" y2="260.6" stroke="#5c5c5c" stroke-width="0.7"/>
<line x1="331.29999999999995" y1="290.55" x2="332.9" y2="290.55" stroke="#5c5c5c" stroke-width="0.7"/>
<line x1="331.29999999999995" y1="320.5" x2="332.9" y2="320.5" stroke="#5c5c5c" stroke-width="0.7"/>
<line x1="331.29999999999995" y1="350.45000000000005" x2="332.9" y2="350.45000000000005" stroke="#5c5c5c" stroke-width="0.7"/>
<line x1="344.3" y1="381.3" x2="344.3" y2="384.3" stroke="#5c5c5c" stroke-width="0.8"/>
<text x="344.3" y="391.6" font-size="6.5" text-anchor="middle" fill="#333" font-weight="normal" stroke="#333" stroke-width="0.15">0</text>
<line x1="367.56" y1="381.3" x2="367.56" y2="384.3" stroke="#5c5c5c" stroke-width="0.8"/>
<text x="367.56" y="391.6" font-size="6.5" text-anchor="middle" fill="#333" font-weight="normal" stroke="#333" stroke-width="0.15">1</text>
<line x1="390.82" y1="381.3" x2="390.82" y2="384.3" stroke="#5c5c5c" stroke-width="0.8"/>
<text x="390.82" y="391.6" font-size="6.5" text-anchor="middle" fill="#333" font-weight="normal" stroke="#333" stroke-width="0.15">2</text>
<line x1="414.08000000000004" y1="381.3" x2="414.08000000000004" y2="384.3" stroke="#5c5c5c" stroke-width="0.8"/>
<text x="414.08000000000004" y="391.6" font-size="6.5" text-anchor="middle" fill="#333" font-weight="normal" stroke="#333" stroke-width="0.15">3</text>
<line x1="437.34000000000003" y1="381.3" x2="437.34000000000003" y2="384.3" stroke="#5c5c5c" stroke-width="0.8"/>
<text x="437.34000000000003" y="391.6" font-size="6.5" text-anchor="middle" fill="#333" font-weight="normal" stroke="#333" stroke-width="0.15">4</text>
<line x1="460.6" y1="381.3" x2="460.6" y2="384.3" stroke="#5c5c5c" stroke-width="0.8"/>
<text x="460.6" y="391.6" font-size="6.5" text-anchor="middle" fill="#333" font-weight="normal" stroke="#333" stroke-width="0.15">5</text>
<line x1="483.86" y1="381.3" x2="483.86" y2="384.3" stroke="#5c5c5c" stroke-width="0.8"/>
<text x="483.86" y="391.6" font-size="6.5" text-anchor="middle" fill="#333" font-weight="normal" stroke="#333" stroke-width="0.15">6</text>
<line x1="507.12" y1="381.3" x2="507.12" y2="384.3" stroke="#5c5c5c" stroke-width="0.8"/>
<text x="507.12" y="391.6" font-size="6.5" text-anchor="middle" fill="#333" font-weight="normal" stroke="#333" stroke-width="0.15">7</text>
<line x1="355.9" y1="381.3" x2="355.9" y2="382.90000000000003" stroke="#5c5c5c" stroke-width="0.7"/>
<line x1="379.15999999999997" y1="381.3" x2="379.15999999999997" y2="382.90000000000003" stroke="#5c5c5c" stroke-width="0.7"/>
<line x1="402.41999999999996" y1="381.3" x2="402.41999999999996" y2="382.90000000000003" stroke="#5c5c5c" stroke-width="0.7"/>
<line x1="425.67999999999995" y1="381.3" x2="425.67999999999995" y2="382.90000000000003" stroke="#5c5c5c" stroke-width="0.7"/>
<line x1="448.94" y1="381.3" x2="448.94" y2="382.90000000000003" stroke="#5c5c5c" stroke-width="0.7"/>
<line x1="472.2" y1="381.3" x2="472.2" y2="382.90000000000003" stroke="#5c5c5c" stroke-width="0.7"/>
<line x1="495.46" y1="381.3" x2="495.46" y2="382.90000000000003" stroke="#5c5c5c" stroke-width="0.7"/>
<text x="0" y="0" font-size="7.9" text-anchor="middle" fill="#222" font-weight="normal" transform="translate(310.6,301.1) rotate(-90)" textLength="45.5" lengthAdjust="spacingAndGlyphs" stroke="#222" stroke-width="0.3">SE Emission</text>
<text x="426.2" y="402.6" font-size="8" text-anchor="middle" fill="#222" font-weight="normal" textLength="41.6" lengthAdjust="spacingAndGlyphs" stroke="#222" stroke-width="0.25">Energy (eV)</text>
<rect x="389.4" y="239.7" width="51.900000000000034" height="138.60000000000002" fill="none" stroke="#222" stroke-width="1.5" stroke-dasharray="3.6 2.2"/>
<rect x="446" y="239.7" width="35.39999999999998" height="138.60000000000002" fill="none" stroke="#222" stroke-width="1.5" stroke-dasharray="3.6 2.2"/>
<path d="M354.1,349.3 C354.6,349.1 360.1,347.0 361.0,346.6 C361.9,346.2 366.9,343.7 367.8,343.2 C368.7,342.7 373.8,339.6 374.7,339.0 C375.6,338.4 380.6,334.6 381.5,333.6 C382.4,332.6 387.6,325.8 388.4,324.7 C389.2,323.6 393.4,317.1 393.8,316.4 C394.2,315.7 394.6,314.6 395.0,313.5 C395.4,312.4 399.8,302.2 400.5,300.2 C401.2,298.2 405.2,286.2 405.9,283.8 C406.6,281.4 410.7,266.0 411.4,263.7 C412.1,261.4 416.2,249.9 416.9,249.1 C417.6,248.3 421.7,251.1 422.4,252.4 C423.1,253.7 426.5,267.0 427.0,269.0 C427.5,271.0 429.8,280.0 430.2,281.7 C430.6,283.4 432.9,292.9 433.4,294.5 C433.9,296.1 436.9,304.6 437.4,305.7 C437.9,306.8 440.9,310.0 441.4,310.5 C441.9,311.0 444.8,313.5 445.5,313.6 C446.2,313.7 450.6,313.0 451.4,312.7 C452.2,312.4 456.3,309.6 457.1,309.2 C457.9,308.8 462.0,306.6 462.8,306.4 C463.6,306.2 467.8,306.1 468.5,306.2 C469.2,306.3 472.6,307.7 473.1,308.1 C473.6,308.5 476.0,310.7 476.5,311.5 C477.0,312.3 480.5,319.0 481.1,320.2 C481.7,321.4 485.2,328.4 485.7,329.6 C486.2,330.8 488.3,337.1 488.8,338.2 C489.3,339.3 492.0,345.0 492.5,346.0 C493.0,347.0 495.8,352.6 496.3,353.6 C496.8,354.6 499.5,360.3 500.1,361.4 C500.7,362.5 504.8,369.1 505.1,369.6" fill="none" stroke="#484848" stroke-width="1.25" stroke-linejoin="round" stroke-linecap="round"/>
<path d="M354.1,352.1 C354.6,351.9 360.1,350.0 361.0,349.6 C361.9,349.2 366.9,347.2 367.8,346.8 C368.7,346.4 373.8,343.8 374.7,343.2 C375.6,342.6 380.6,339.2 381.5,338.4 C382.4,337.6 387.6,332.4 388.4,331.5 C389.2,330.6 393.2,326.0 393.8,325.3 C394.4,324.6 396.7,321.6 397.3,320.3 C397.9,319.0 401.6,307.4 402.3,305.7 C403.0,304.0 407.1,295.9 407.8,294.7 C408.5,293.5 411.7,288.3 412.3,287.8 C412.9,287.3 415.9,287.2 416.5,287.8 C417.1,288.4 420.7,295.3 421.5,296.6 C422.3,297.9 427.0,305.6 427.8,306.6 C428.6,307.6 433.4,311.6 434.2,312.1 C435.0,312.6 438.9,314.5 439.7,314.6 C440.5,314.7 444.9,314.2 445.7,314.0 C446.5,313.8 450.6,312.6 451.4,312.3 C452.2,312.0 456.3,309.2 457.1,308.8 C457.9,308.4 462.0,306.2 462.8,306.0 C463.6,305.8 467.8,305.7 468.5,305.8 C469.2,305.9 472.6,307.3 473.1,307.7 C473.6,308.1 476.0,310.2 476.5,311.1 C477.0,312.0 480.6,319.3 481.2,320.5 C481.8,321.7 484.5,327.7 485.0,328.8 C485.5,329.9 488.3,336.5 488.8,337.6 C489.3,338.7 492.0,344.1 492.5,345.1 C493.0,346.1 495.8,351.6 496.3,352.6 C496.8,353.6 499.5,359.3 500.1,360.2 C500.7,361.1 504.8,366.0 505.1,366.4" fill="none" stroke="#f23e3e" stroke-width="1.25" stroke-linejoin="round" stroke-linecap="round"/>
<text x="395" y="344.4" font-size="8.3" text-anchor="start" fill="#2e2e2e" font-weight="normal" textLength="31.6" lengthAdjust="spacingAndGlyphs" stroke="#2e2e2e" stroke-width="0.3">SP2 like/</text>
<text x="395" y="355.2" font-size="8.3" text-anchor="start" fill="#2e2e2e" font-weight="normal" textLength="44" lengthAdjust="spacingAndGlyphs" stroke="#2e2e2e" stroke-width="0.3">amorphous</text>
<text x="395" y="366.0" font-size="8.3" text-anchor="start" fill="#2e2e2e" font-weight="normal" textLength="27.6" lengthAdjust="spacingAndGlyphs" stroke="#2e2e2e" stroke-width="0.3">Carbon</text>
<text x="448.6" y="344.8" font-size="8.3" text-anchor="start" fill="#2e2e2e" font-weight="normal" textLength="28.2" lengthAdjust="spacingAndGlyphs" stroke="#2e2e2e" stroke-width="0.3">SP3 like</text>
<rect x="487.3" y="214.2" width="50.19999999999999" height="16.30000000000001" fill="#fff" stroke="#777" stroke-width="0.8"/>
<line x1="487.8" y1="218.4" x2="501.6" y2="218.4" stroke="#484848" stroke-width="1.1"/>
<text x="502.9" y="220.8" font-size="6.6" text-anchor="start" fill="#333" font-weight="normal" textLength="33.0" lengthAdjust="spacingAndGlyphs">EBID HOPG</text>
<line x1="487.8" y1="226.3" x2="501.6" y2="226.3" stroke="#f23e3e" stroke-width="1.1"/>
<text x="502.9" y="228.70000000000002" font-size="6.6" text-anchor="start" fill="#333" font-weight="normal" textLength="18.0" lengthAdjust="spacingAndGlyphs">HOPG</text>
</svg></body></html>
